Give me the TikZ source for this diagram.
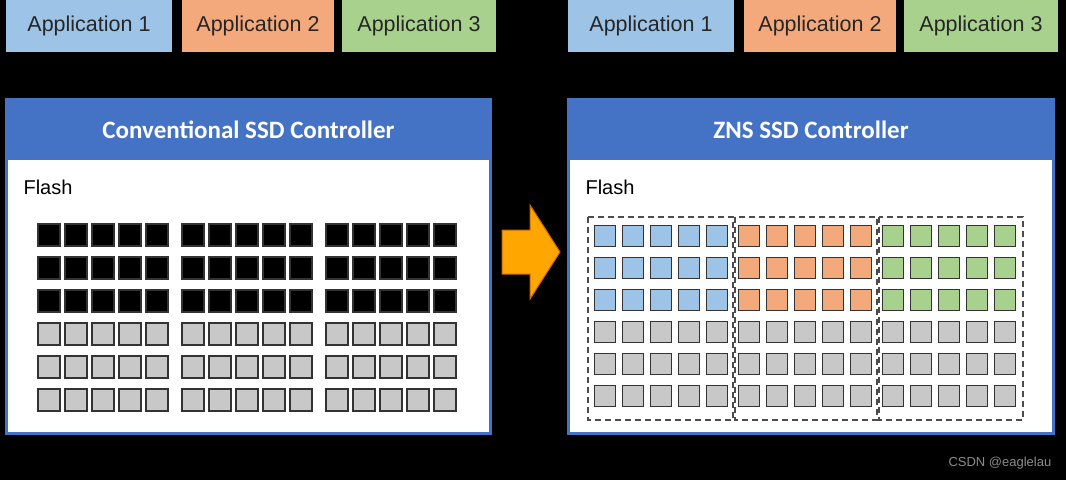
\documentclass[tikz,border=0pt]{standalone}
\usepackage{fontspec}
\setmainfont{Liberation Sans}
\newfontfamily\hdr{Carlito}
\begin{document}
\begin{tikzpicture}[x=1pt,y=-1pt,
 app/.style={draw=none,minimum height=52pt,inner sep=0pt,font=\fontsize{21.5}{24}\selectfont,text=black!85},
 cell/.style={draw=black!80,line width=1.5pt,minimum size=21pt,inner sep=0pt},
 zone/.style={draw=black!70,dashed,line width=1.5pt,dash pattern=on 6pt off 4pt}]
\fill[black] (0,0) rectangle (1066,480);
\useasboundingbox (0,0) rectangle (1066,480);
\definecolor{ab}{HTML}{9DC3E6}\definecolor{ao}{HTML}{F4A97C}\definecolor{ag}{HTML}{A9D18E}
\definecolor{hb}{HTML}{4472C4}\definecolor{cg}{HTML}{C8C8C8}
\foreach \o/\p in {0/L,562/R}{
 \node[app,fill=ab,minimum width=166pt] (a1\p) at (89+\o,26) {Application 1};
 \node[app,fill=ao,minimum width=152pt] (a2\p) at (258+\o,26) {Application 2};
 \node[app,fill=ag,minimum width=154pt] (a3\p) at (419+\o,26) {Application 3};
}
\foreach \l/\r/\p/\t in {5/492/L/Conventional SSD Controller,567/1055/R/ZNS SSD Controller}{
 \fill[hb] (\l,98) rectangle (\r,435);
 \fill[white] (\l+3,160) rectangle (\r-3,432);
 \node[text=white,font=\hdr\bfseries\fontsize{25}{28}\selectfont] (h\p) at ({(\l+\r)/2},130) {\t};
 \node[anchor=west,font=\fontsize{20}{24}\selectfont] (f\p) at (\l+15,187) {Flash};
}
% left grid
\foreach \g/\gx in {0/38,1/182,2/326}{
 \foreach \c in {0,...,4}{
  \foreach \r in {0,...,5}{
   \pgfmathsetmacro\fc{\r<3?"black":"cg"}
   \node[cell,fill=\fc,minimum size=22pt] (l\g\c\r) at ({\gx+11+\c*27},{235+\r*33}) {};
 }}}
% right grid
\foreach \g/\gx/\col in {0/594/ab,1/738/ao,2/882/ag}{
 \foreach \c in {0,...,4}{
  \foreach \r in {0,...,5}{
   \pgfmathsetmacro\fc{\r<3?"\col":"cg"}
   \node[cell,fill=\fc] (r\g\c\r) at ({\gx+11+\c*28},{236+\r*32}) {};
 }}}
\draw[zone] (588,217) rectangle (733,420);
\draw[zone] (735,217) rectangle (877,420);
\draw[zone] (879,217) rectangle (1023,420);
% arrow
\fill[orange!70!yellow,draw=orange!80!black,line width=1pt] (502,230) -- (530,230) -- (530,205) -- (560,252) -- (530,299) -- (530,274) -- (502,274) -- cycle;
\node[text=black!45,font=\fontsize{13}{15}\selectfont,anchor=west] (c) at (945,463) {CSDN @eaglelau};
\end{tikzpicture}
\end{document}
